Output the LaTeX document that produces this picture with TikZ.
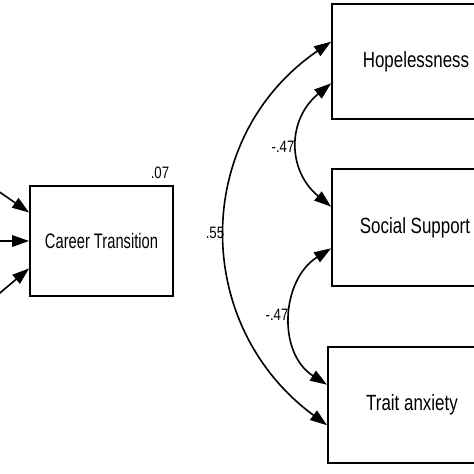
\documentclass[tikz,border=0pt]{standalone}
\usepackage{fontspec}
\setmainfont{Liberation Sans}
\newfontfamily\boxfontA{Liberation Sans}[FakeStretch=0.77]
\newfontfamily\boxfontB{Liberation Sans}[FakeStretch=0.70]
\newfontfamily\labfont{Liberation Sans}[FakeStretch=0.80]
\usetikzlibrary{arrows.meta,calc}
\tikzset{
  varbox/.style={draw=black, line width=1.8pt, rectangle, inner sep=0pt, fill=white},
  rbox/.style={varbox, font=\boxfontA\fontsize{22}{25}\selectfont},
  lab/.style={font=\labfont\fontsize{16.5}{19}\selectfont, inner sep=0pt},
  conn/.style={line width=1.6pt, -{Triangle[length=17pt,width=11.5pt]}},
  corr/.style={line width=1.6pt, {Triangle[length=17pt,width=11.5pt]}-{Triangle[length=17pt,width=11.5pt]}}
}
\begin{document}
\begin{tikzpicture}[x=1pt,y=-1pt]
\useasboundingbox (0,0) rectangle (474,474);
\fill[white] (0,0) rectangle (474,474);
% boxes
\node[varbox, minimum width=143pt, minimum height=110pt, font=\boxfontB\fontsize{21}{24}\selectfont] (ct) at (101.5,241) {Career Transition};
\node[rbox, minimum width=168pt, minimum height=115pt] (hop) at (416,61.5) {Hopelessness};
\node[rbox, minimum width=166pt, minimum height=117pt] (ss) at (415,227.5) {Social Support};
\node[rbox, minimum width=168pt, minimum height=116pt] (ta) at (412,405) {Trait anxiety};
% labels
\node[lab] (r2) at (160,173) {.07};
\node[lab] (c1) at (215,233) {.55};
\node[lab] (c2) at (283,147) {-.47};
\node[lab] (c3) at (277,315) {-.47};
% input arrows
\coordinate (i1) at (-12,184);
\coordinate (i2) at (-12,241);
\coordinate (i3) at (-12,303);
\coordinate (e1) at ($(ct.north west)!0.245!(ct.south west)$);
\coordinate (e3) at ($(ct.north west)!0.745!(ct.south west)$);
\draw[conn] (i1) -- (e1);
\draw[conn] (i2) -- (ct.west);
\draw[conn] (i3) -- (e3);
% correlation end points
\coordinate (h1) at ($(hop.north west)!0.33!(hop.south west)$);
\coordinate (h2) at ($(hop.north west)!0.687!(hop.south west)$);
\coordinate (s1) at ($(ss.north west)!0.325!(ss.south west)$);
\coordinate (s2) at ($(ss.north west)!0.675!(ss.south west)$);
\coordinate (t1) at ($(ta.north west)!0.328!(ta.south west)$);
\coordinate (t2) at ($(ta.north west)!0.672!(ta.south west)$);
\draw[corr] (h1) .. controls (192,137) and (191,325) .. (t2);
\draw[corr] (h2) .. controls (287,119.5) and (287,170.5) .. (s1);
\draw[corr] (s2) .. controls (281,280) and (277,353) .. (t1);
\end{tikzpicture}
\end{document}
